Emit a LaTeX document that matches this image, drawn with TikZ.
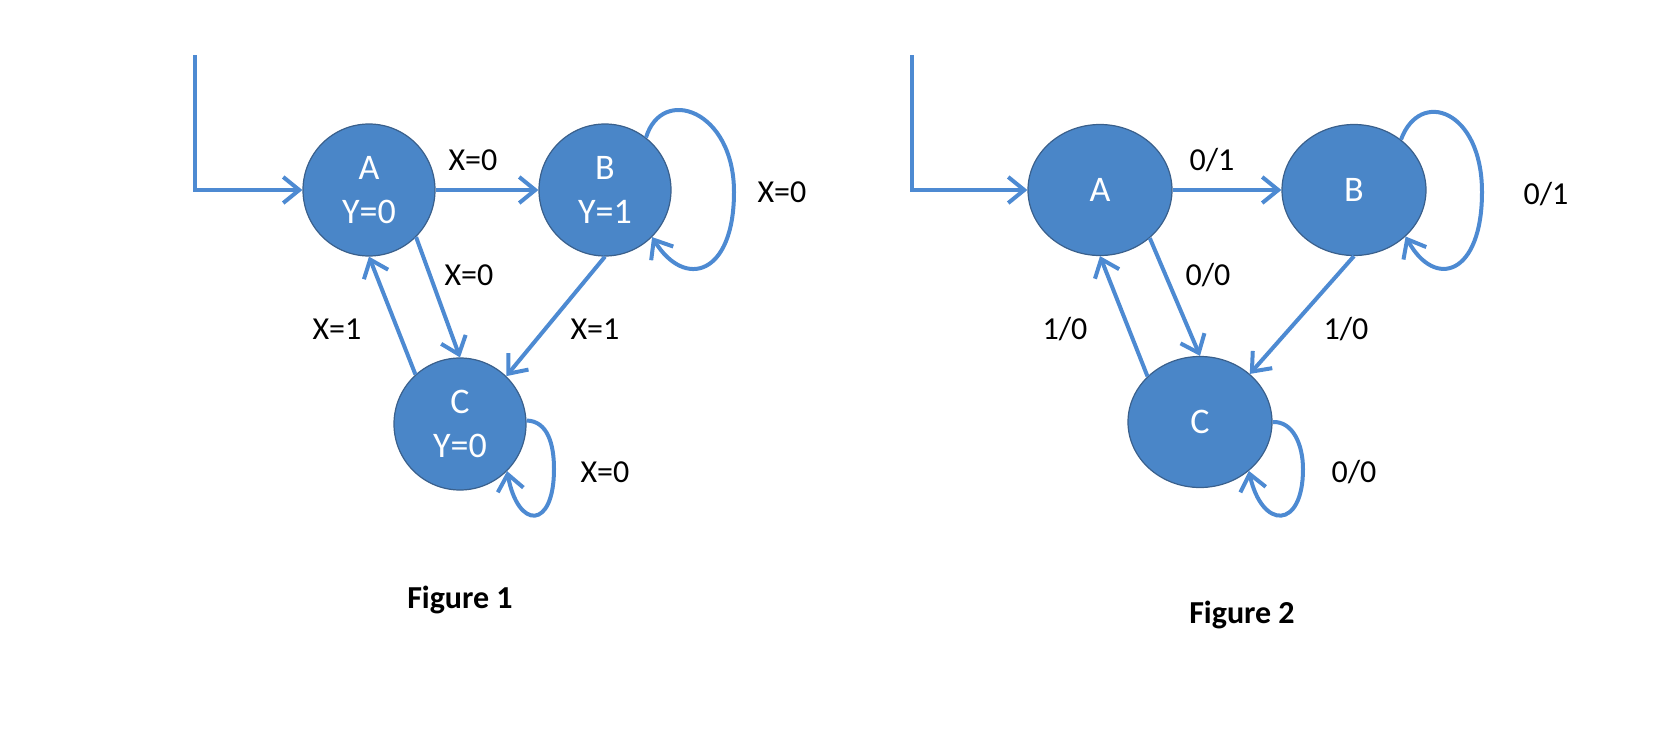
\documentclass[tikz,border=0pt]{standalone}
\usepackage{fontspec}
\setmainfont{Carlito}
\usetikzlibrary{arrows.meta, shapes.geometric}

\definecolor{stateBlue}{RGB}{74,134,200}
\definecolor{stateLine}{RGB}{58,96,140}
\definecolor{transBlue}{RGB}{77,138,210}

\begin{document}
\begin{tikzpicture} [x = 0.5pt, y = -0.5pt,
		state/.style = {circle, draw = stateLine, line width = 0.6pt, fill = stateBlue, text = white, minimum size = 66pt, inner sep = 0pt, align = center, font = \fontsize{18}{22}\selectfont},
		stateTwo/.style = {state, ellipse, minimum width = 72pt, minimum height = 65.5pt},
		trans/.style = {draw = transBlue, line width = 2pt, -{Straight Barb[length = 8pt, width = 13pt]}},
		lbl/.style = {font = \fontsize{16}{19}\selectfont},
		figlabel/.style = {font = \fontsize{16}{19}\selectfont\bfseries}]
		\useasboundingbox (0, 0) rectangle (1672, 740);

		% figure 1
		\node[state] (aOne) at (369, 190) {A\\Y=0};
		\node[state] (bOne) at (605, 190) {B\\Y=1};
		\node[state] (cOne) at (460, 424) {C\\Y=0};
		\coordinate (startOne) at (195, 55);

		\node[lbl] (abOne) at (473, 160) {X=0};
		\node[lbl] (bbOne) at (782, 192) {X=0};
		\node[lbl] (acOne) at (469, 275) {X=0};
		\node[lbl] (caOne) at (337, 329) {X=1};
		\node[lbl] (bcOne) at (595, 329) {X=1};
		\node[lbl] (ccOne) at (605, 472) {X=0};
		\node[figlabel] (figOne) at (460, 600) {Figure 1};

		% figure 2
		\node[stateTwo] (aTwo) at (1100, 190) {A};
		\node[stateTwo] (bTwo) at (1354, 190) {B};
		\node[stateTwo] (cTwo) at (1200, 422) {C};
		\coordinate (startTwo) at (912, 55);

		\node[lbl] (abTwo) at (1212, 160) {0/1};
		\node[lbl] (bbTwo) at (1546, 194) {0/1};
		\node[lbl] (acTwo) at (1208, 275) {0/0};
		\node[lbl] (caTwo) at (1065, 329) {1/0};
		\node[lbl] (bcTwo) at (1346, 329) {1/0};
		\node[lbl] (ccTwo) at (1354, 472) {0/0};
		\node[figlabel] (figTwo) at (1242, 615) {Figure 2};

		% edges
		\draw[trans] (startOne) |- (aOne);
		\draw[trans] (aOne) -- (bOne);
		\draw[trans] (aOne.-45) -- (cOne.north);
		\draw[trans] (cOne.132) -- (aOne.south);
		\draw[trans] (bOne.south) -- (cOne.46);
		\draw[trans] (bOne.52) .. controls (662, 85) and (734, 110) .. (734, 192) .. controls (734, 275) and (685, 290) .. (bOne.-45);
		\draw[trans] (cOne.3) .. controls (548, 421) and (554, 445) .. (554, 469) .. controls (554, 530) and (518, 530) .. (cOne.-45);

		\draw[trans] (startTwo) |- (aTwo);
		\draw[trans] (aTwo) -- (bTwo);
		\draw[trans] (aTwo.-44) -- (cTwo.north);
		\draw[trans] (cTwo.139) -- (aTwo.south);
		\draw[trans] (bTwo.south) -- (cTwo.44);
		\draw[trans] (bTwo.47) .. controls (1420, 88) and (1482, 110) .. (1482, 192) .. controls (1482, 275) and (1435, 290) .. (bTwo.-42);
		\draw[trans] (cTwo.east) .. controls (1293, 421) and (1303, 445) .. (1303, 469) .. controls (1303, 530) and (1262, 530) .. (cTwo.-45);

		\end{tikzpicture}
\end{document}
